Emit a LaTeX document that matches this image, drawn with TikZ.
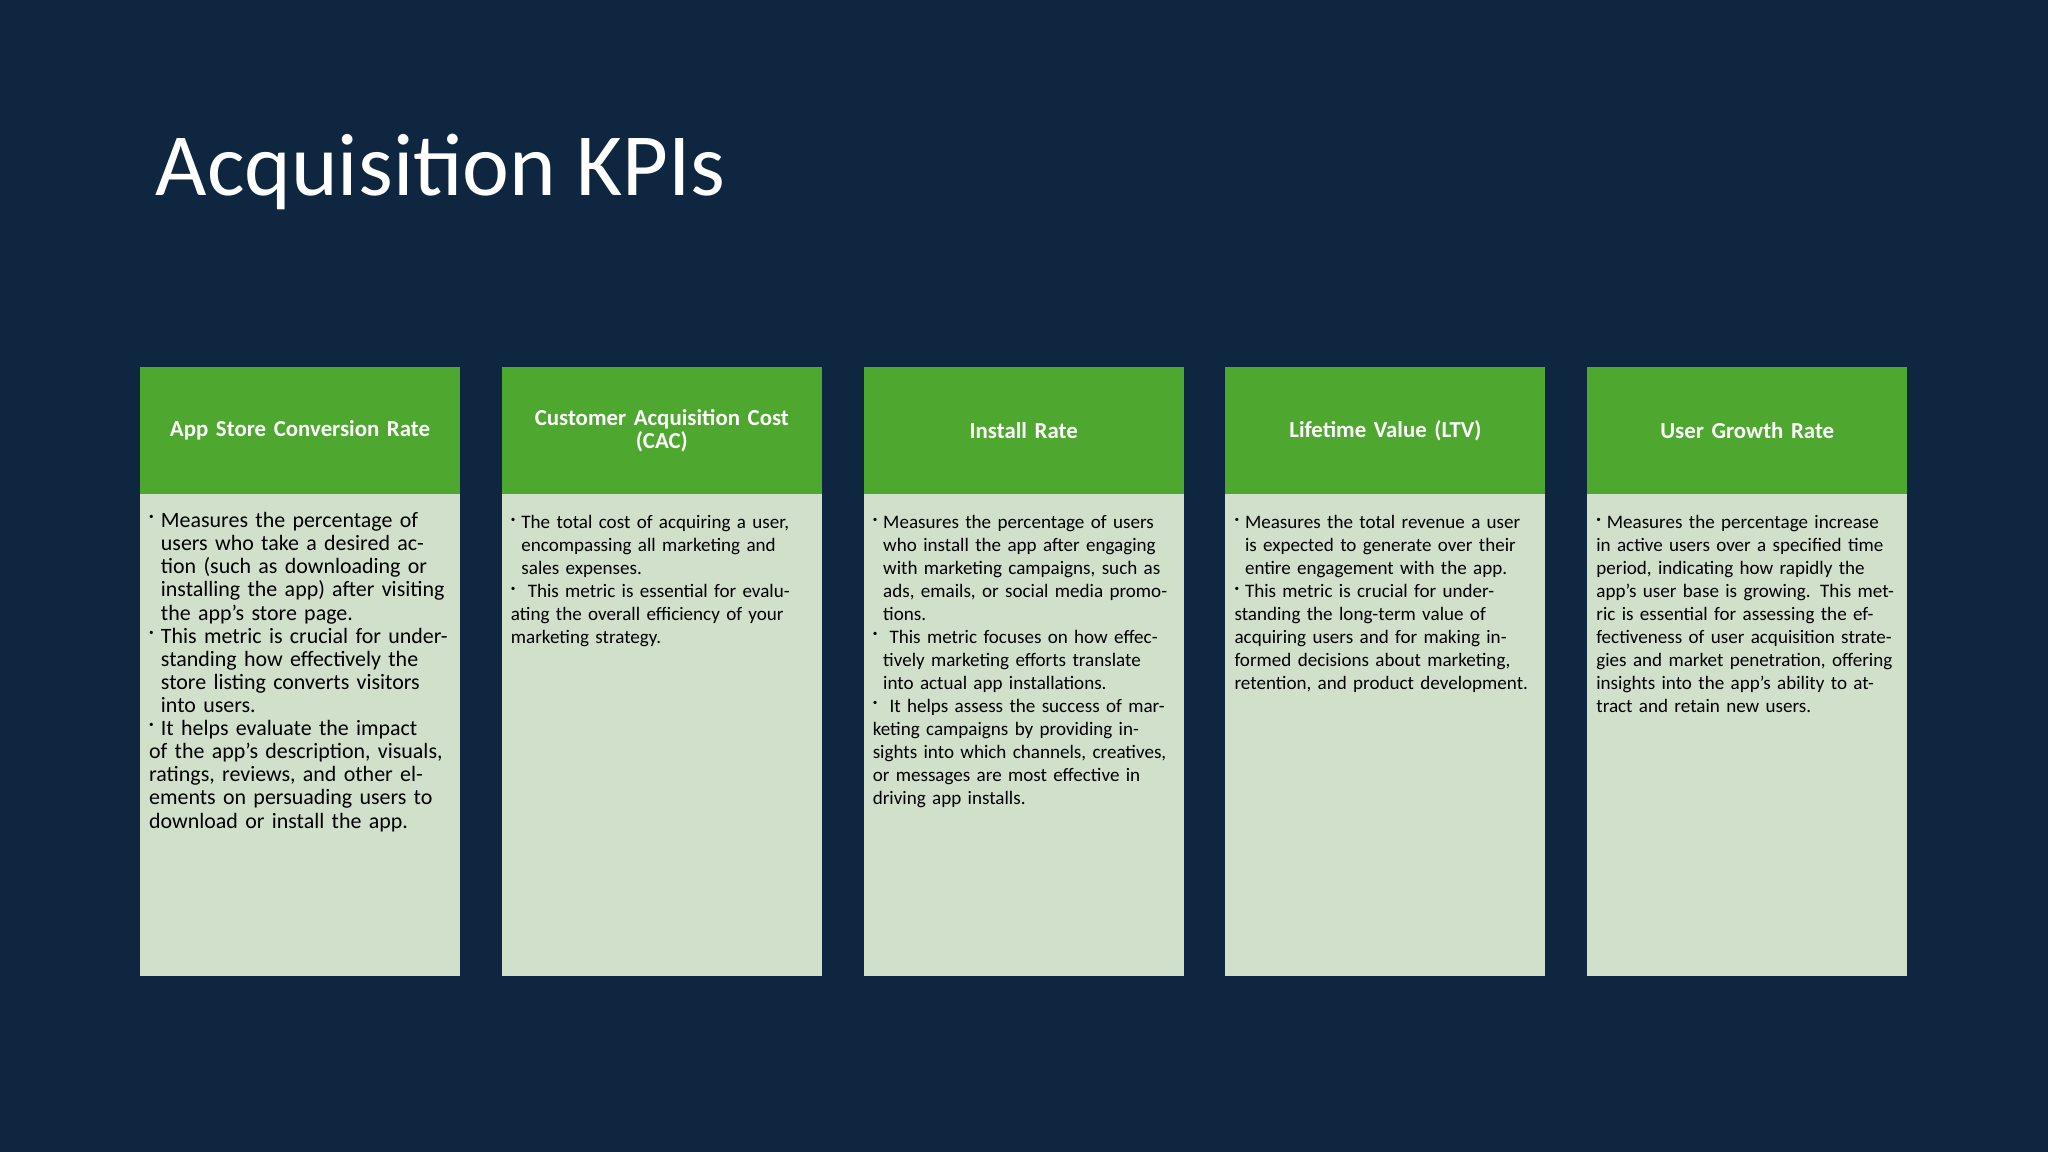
\documentclass[tikz,border=0pt]{standalone}
\usepackage{fontspec}
\setmainfont{Carlito}
\definecolor{bg}{HTML}{0F2640}
\definecolor{hdr}{HTML}{4EA72E}
\definecolor{bod}{HTML}{D0E0CB}
\newcommand{\bul}[2]{\par\noindent\hangindent=#1\hangafter=1\makebox[#1][l]{\raisebox{0.35em}{\fontsize{7}{7}\selectfont\textbullet}}#2}
\tikzset{
  hbox/.style={fill=hdr,draw=none,minimum width=245pt,minimum height=97pt,anchor=north west,text=white,font=\fontsize{17.5}{18}\selectfont\bfseries,align=center,text width=225pt,inner sep=0pt},
  bbox/.style={fill=bod,draw=none,minimum width=245pt,minimum height=369pt,anchor=north west},
  btxt/.style={anchor=north west,text=black,align=left,text width=230pt,inner sep=0pt,font=\fontsize{14.6}{17.6}\selectfont},
  btxtbig/.style={btxt,font=\fontsize{16.8}{17.7}\selectfont}
}
\begin{document}
\begin{tikzpicture}[x=1pt,y=-1pt]
\fill[bg] (0,0) rectangle (1568,882);
\useasboundingbox (0,0) rectangle (1568,882);
\node[anchor=west,text=white,font=\fontsize{68}{70}\selectfont,inner sep=0pt] (title) at (119,132) {Acquisition KPIs};
\foreach \i/\x/\t in {1/107/{App Store Conversion Rate},2/384/{Customer Acquisition Cost\\(CAC)},3/661/{Install Rate},4/938/{Lifetime Value (LTV)},5/1215/{User Growth Rate}}{
  \node[hbox] (h\i) at (\x,281) {\t};
  \node[bbox] (b\i) at (\x,378) {};
}
\node[btxtbig] (t1) at (114,386) {%
\bul{9pt}{Measures the percentage of users who take a desired action (such as downloading or installing the app) after visiting the app's store page.}
\bul{9pt}{This metric is crucial for understanding how effectively the store listing converts visitors into users.}
\bul{9pt}{It helps evaluate the impact of the app’s description, visuals, ratings, reviews, and other elements on persuading users to download or install the app.}};
\node[btxt] (t2) at (391,387) {%
\bul{8pt}{The total cost of acquiring a user, encompassing all marketing and sales expenses.}
\bul{8pt}{ This metric is essential for evaluating the overall efficiency of your marketing strategy.}};
\node[btxt] (t3) at (668,387) {%
\bul{8pt}{Measures the percentage of users who install the app after engaging with marketing campaigns, such as ads, emails, or social media promotions.}
\bul{8pt}{ This metric focuses on how effectively marketing efforts translate into actual app installations.}
\bul{8pt}{ It helps assess the success of marketing campaigns by providing insights into which channels, creatives, or messages are most effective in driving app installs.}};
\node[btxt] (t4) at (945,387) {%
\bul{8pt}{Measures the total revenue a user is expected to generate over their entire engagement with the app.}
\bul{8pt}{This metric is crucial for understanding the long-term value of acquiring users and for making informed decisions about marketing, retention, and product development.}};
\node[btxt] (t5) at (1222,387) {%
\bul{8pt}{Measures the percentage increase in active users over a specified time period, indicating how rapidly the app's user base is growing. This metric is essential for assessing the effectiveness of user acquisition strategies and market penetration, offering insights into the app's ability to attract and retain new users.}};
\end{tikzpicture}
\end{document}
